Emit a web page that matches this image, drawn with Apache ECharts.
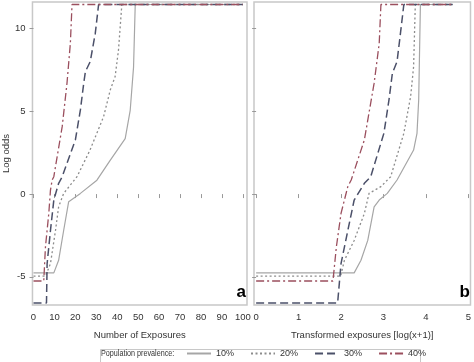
<!DOCTYPE html>
<html><head><meta charset="utf-8">
<script src="https://cdn.jsdelivr.net/npm/echarts@6/dist/echarts.min.js"></script>
<style>html,body{margin:0;padding:0;background:#fff}#c{width:474px;height:362px}</style>
</head><body><div id="c"></div>
<script>
var seriesNames = ['10%', '20%', '30%', '40%'];
var xTicksA = [0,10,20,30,40,50,60,70,80,90,100];
var xTicksB = [0,1,2,3,4,5];
var yTicks = [-5,0,5,10];

var a10 = [[0,-4.76],[9.7,-4.76],[12,-4],[14.4,-2.2],[16.8,-0.46],[22.4,0.04],[30.3,0.84],[36.7,2.05],[43.8,3.35],[46.2,5.06],[47.8,7.67],[48.6,11.45],[100,11.45]];
var a20 = [[0,-4.96],[5.7,-4.96],[8.1,-4.2],[10.5,-2.2],[12,-0.77],[14.4,0.04],[20.8,1.05],[27,2.66],[33.5,4.68],[36.7,6.3],[39,7.1],[40.6,8.7],[42.2,11.45],[100,11.45]];
var a30 = [[0,-6.58],[6.2,-6.58],[6.5,-4.2],[8.1,-2.2],[9.7,-0.36],[12,0.65],[13.7,1.05],[20,3.27],[22.4,5.08],[24,6.7],[24.8,7.4],[27.1,8.0],[29.5,9.7],[31.1,11.45],[100,11.45]];
var a40 = [[0,-5.25],[4.9,-5.25],[5.7,-3.2],[7.3,-1.17],[8.1,0.24],[8.9,0.85],[9.7,1.05],[13.7,4.07],[16,6.7],[17.6,9.1],[18.4,11.45],[100,11.45]];

var b10 = [[0,-4.76],[2.31,-4.76],[2.47,-4],[2.63,-2.8],[2.78,-0.77],[2.9,-0.36],[3.09,0.04],[3.32,0.85],[3.71,2.66],[3.79,3.67],[3.83,5.7],[3.87,11.45],[4.63,11.45]];
var b20 = [[0,-4.96],[1.99,-4.96],[2.08,-4],[2.31,-2.8],[2.55,-1.17],[2.66,0.04],[2.94,0.45],[3.17,1.05],[3.48,3.67],[3.64,5.89],[3.71,7.7],[3.75,11.45],[4.63,11.45]];
var b30 = [[0,-6.58],[1.92,-6.58],[2.0,-4.2],[2.16,-2.2],[2.31,-0.36],[2.55,0.65],[2.7,1.05],[3.01,3.67],[3.13,5.69],[3.21,7.3],[3.32,8.0],[3.4,9.7],[3.48,11.45],[4.63,11.45]];
var b40 = [[0,-5.25],[1.81,-5.25],[1.89,-3.2],[2.0,-1.17],[2.16,0.45],[2.24,0.85],[2.55,3.27],[2.78,6.7],[2.9,9.1],[2.94,11.45],[4.63,11.45]];

var styles = [
  {color:'#a6a6a6', type:'solid', width:1.2},
  {color:'#8c8c8c', type:[2,2.5], width:1.3},
  {color:'#4b5069', type:[8,4], width:1.5},
  {color:'#9b4f5e', type:[8,3,2,3], width:1.3}
];
var dataA = [a10,a20,a30,a40];
var dataB = [b10,b20,b30,b40];
var font = "'Liberation Sans', Arial, sans-serif";

var series = [];
for (var i = 0; i < 4; i++) {
  series.push({type:'line', name:seriesNames[i], xAxisIndex:0, yAxisIndex:0, data:dataA[i], symbol:'none', lineStyle:styles[i], itemStyle:{color:styles[i].color}, animation:false});
  series.push({type:'line', name:seriesNames[i], xAxisIndex:1, yAxisIndex:1, data:dataB[i], symbol:'none', lineStyle:styles[i], itemStyle:{color:styles[i].color}, animation:false});
}

function xAxis(idx, min, max, ticks, name) {
  return {type:'value', gridIndex:idx, min:min, max:max,
    name:name, nameLocation:'middle', nameGap:25,
    nameTextStyle:{fontSize:9.5, color:'#333', fontFamily:font},
    axisLine:{show:false}, splitLine:{show:false},
    axisTick:{show:true, length:4, lineStyle:{color:'#999'}, customValues:ticks},
    axisLabel:{fontSize:9.5, color:'#333', fontFamily:font, margin:7, customValues:ticks}
  };
}
function yAxis(idx, showLabel) {
  return {type:'value', gridIndex:idx, min:-6.7, max:11.6,
    name: showLabel ? 'Log odds' : '', nameLocation:'middle', nameGap:20,
    nameTextStyle:{fontSize:9.5, color:'#333', fontFamily:font},
    axisLine:{show:false}, splitLine:{show:false},
    axisTick:{show:true, length:4, lineStyle:{color:'#999'}, customValues:yTicks},
    axisLabel:{show:showLabel, fontSize:9.5, color:'#333', fontFamily:font, margin:7, customValues:yTicks}
  };
}

var chart = echarts.init(document.getElementById('c'), null, {renderer:'canvas'});
chart.setOption({
  backgroundColor:'#fff',
  animation:false,
  grid:[
    {left:32, right:227, top:2, bottom:57, show:true, borderColor:'#c8c8c8', borderWidth:1.5},
    {left:254, right:2, top:2, bottom:57, show:true, borderColor:'#c8c8c8', borderWidth:1.5}
  ],
  xAxis:[xAxis(0, -0.5, 102, xTicksA, 'Number of Exposures'), xAxis(1, -0.05, 5.05, xTicksB, 'Transformed exposures [log(x+1)]')],
  yAxis:[yAxis(0, true), yAxis(1, false)],
  legend:{data:seriesNames, left:186, top:349, padding:0, itemWidth:24, itemHeight:9, itemGap:16,
    itemStyle:{opacity:0},
    textStyle:{fontSize:9, color:'#333', fontFamily:font}},
  graphic:[
    {type:'rect', left:98, top:347, shape:{width:320, height:13}, style:{fill:'none', stroke:'#c8c8c8', lineWidth:1}},
    {type:'text', x:101, y:349, scaleX:0.8, style:{text:'Population prevalence:', font:'9px ' + font, fill:'#333'}},
    {type:'text', right:474-246, top:284, style:{text:'a', font:'bold 17px ' + font, fill:'#000'}},
    {type:'text', right:474-470, top:284, style:{text:'b', font:'bold 17px ' + font, fill:'#000'}}
  ],
  series:series
});
</script></body></html>
